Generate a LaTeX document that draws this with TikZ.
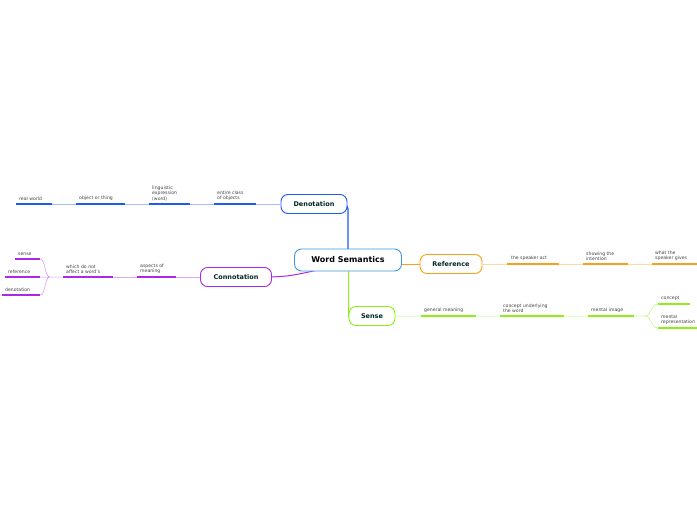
\documentclass[tikz,border=0pt]{standalone}
\usepackage{fontspec}
\setmainfont{DejaVu Sans}
\begin{document}
\begin{tikzpicture}[x=1pt,y=-1pt,
 topic/.style={draw=#1,line width=0.9pt,rounded corners=7pt,fill=white,font=\fontsize{6.5}{7}\selectfont\bfseries,text=black!70!teal,minimum height=19pt,inner sep=0pt},
 leaf/.style={font=\fontsize{4.6}{5.2}\selectfont,text=black!75,align=left,anchor=south west,inner sep=1pt},
 ul/.style={draw=#1,line width=1.2pt},
 lk/.style={draw=#1,line width=0.5pt}]
\useasboundingbox (0,0) rectangle (697,520);
\definecolor{cb}{RGB}{30,90,240}\definecolor{cp}{RGB}{170,40,230}
\definecolor{co}{RGB}{250,160,20}\definecolor{cg}{RGB}{140,240,20}
\definecolor{cc}{RGB}{60,150,220}
% main connectors
\draw[cb,line width=1.2pt] (348,250) -- (348,212) .. controls (348,206) .. (342,204);
\draw[cp,line width=1pt] (318,270) .. controls (290,276) .. (271,277);
\draw[co,line width=1pt] (400,264) -- (421,264);
\draw[cg,line width=1pt] (348,270) -- (348,318);
\node[topic=cc,minimum width=107pt,font=\fontsize{8}{9}\selectfont\bfseries,text=black,minimum height=22pt] (ws) at (348,260) {Word Semantics};
\node[topic=cb,minimum width=66pt] (den) at (314,204) {Denotation};
\node[topic=cp,minimum width=71pt] (con) at (236,277) {Connotation};
\node[topic=co,minimum width=62pt] (ref) at (451,264) {Reference};
\node[topic=cg,minimum width=46pt] (sen) at (372,316) {Sense};
% Denotation chain
\foreach \a/\b/\t [count=\i] in {214/256/{entire class\\of objects},149/190/{linguistic\\expression\\(word)},76/125/{object or thing},16/52/{real world}}{
 \draw[ul=cb] (\a,204) -- (\b,204); \node[leaf] (d\i) at (\a+2,202) {\t};}
\draw[lk=cb!40] (den.west) -- (256,204) (214,204) -- (190,204) (149,204) -- (125,204) (76,204) -- (52,204);
% Connotation chain
\draw[ul=cp] (137,277) -- (176,277); \node[leaf] (c1) at (139,275) {aspects of\\meaning};
\draw[ul=cp] (63,277) -- (113,277); \node[leaf] (c2) at (65,275) {which do not\\affect a word's};
\draw[lk=cp!40] (con.west) -- (176,277) (137,277) -- (113,277);
\draw[ul=cp] (15,259) -- (40,259); \node[leaf] (c3) at (17,257) {sense};
\draw[ul=cp] (5,277) -- (40,277); \node[leaf] (c4) at (7,275) {reference};
\draw[ul=cp] (2,295) -- (40,295); \node[leaf] (c5) at (4,293) {denotation};
\draw[lk=cp!50] (63,277) -- (50,277) (50,277) .. controls (44,277) and (46,259) .. (40,259) (50,277) .. controls (44,277) and (46,295) .. (40,295) (50,277) -- (40,277);
% Reference chain
\draw[ul=co] (507,264) -- (559,264); \node[leaf] (r1) at (510,262) {the speaker act};
\draw[ul=co] (583,264) -- (628,264); \node[leaf] (r2) at (585,262) {showing the\\intention};
\draw[ul=co] (652,264) -- (697,264); \node[leaf] (r3) at (654,262) {what the\\speaker gives};
\draw[lk=co!40] (ref.east) -- (507,264) (559,264) -- (583,264) (628,264) -- (652,264);
% Sense chain
\draw[ul=cg] (421,316) -- (476,316); \node[leaf] (s1) at (423,314) {general meaning};
\draw[ul=cg] (500,316) -- (564,316); \node[leaf] (s2) at (502,314) {concept underlying\\the word};
\draw[ul=cg] (588,316) -- (634,316); \node[leaf] (s3) at (590,314) {mental image};
\draw[ul=cg] (658,304) -- (690,304); \node[leaf] (s4) at (660,302) {concept};
\draw[ul=cg] (658,328) -- (697,328); \node[leaf] (s5) at (660,326) {mental\\representation};
\draw[lk=cg!60] (sen.east) -- (421,316) (476,316) -- (500,316) (564,316) -- (588,316) (634,316) -- (645,316)
 (645,316) .. controls (652,316) and (650,304) .. (658,304) (645,316) .. controls (652,316) and (650,328) .. (658,328);
\end{tikzpicture}
\end{document}
